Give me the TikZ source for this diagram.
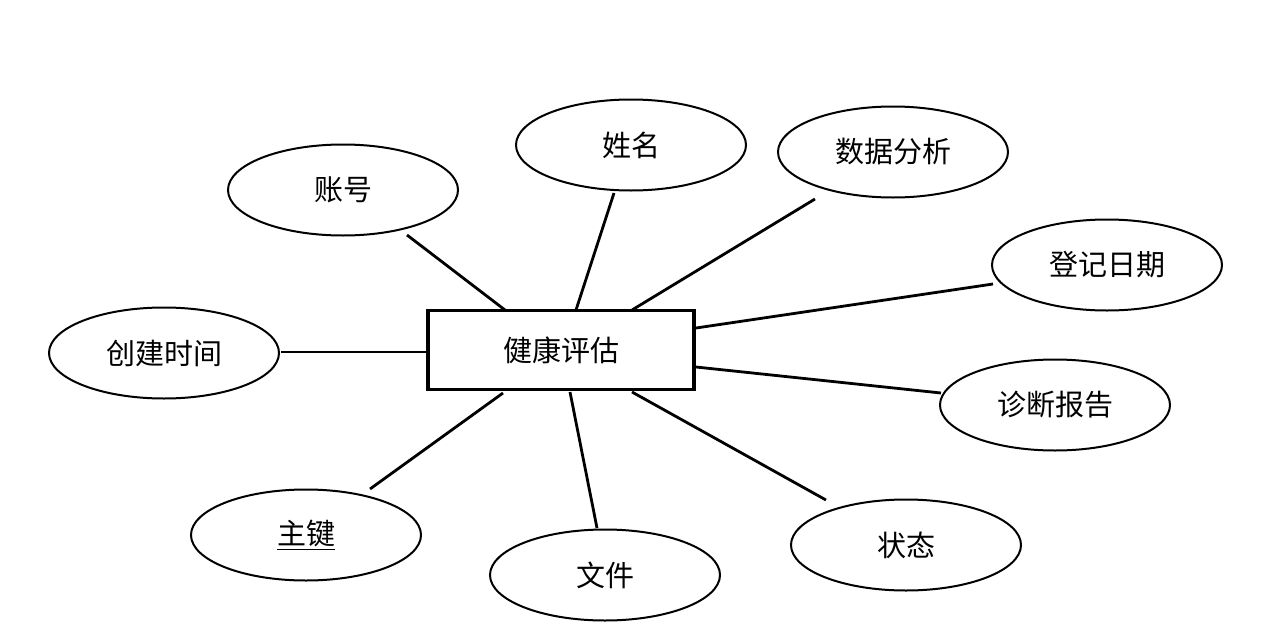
\documentclass[tikz,border=0pt]{standalone}
\usepackage{fontspec}
\setmainfont{Noto Sans CJK SC}
\usetikzlibrary{shapes.geometric}
\tikzset{
  attr/.style={ellipse, draw=black, line width=2pt, minimum width=230pt, minimum height=91pt, inner sep=0pt, font=\fontsize{29}{32}\selectfont},
  ent/.style={rectangle, draw=black, line width=3.5pt, minimum width=266pt, minimum height=79pt, inner sep=0pt, font=\fontsize{29}{32}\selectfont},
  conn/.style={line width=2.8pt, draw=black}
}
\newcommand{\ulthick}[1]{\setlength{\ULdepth}{0pt}#1}
\begin{document}
\begin{tikzpicture}[x=1pt,y=-1pt]
\useasboundingbox (0,0) rectangle (1280,643);
\node[ent] (c) at (561,350) {健康评估};
\node[attr] (zh) at (343,190) {账号};
\node[attr] (xm) at (631,145) {姓名};
\node[attr] (sj) at (893,152) {数据分析};
\node[attr] (dj) at (1107,265) {登记日期};
\node[attr] (cj) at (164,353) {创建时间};
\node[attr] (zd) at (1055,405) {诊断报告};
\node[attr] (zj) at (306,535) {\underline{主键}};
\node[attr] (wj) at (605,575) {文件};
\node[attr] (zt) at (906,545) {状态};
% connector ends
\coordinate (c1) at (505,310); \coordinate (e1) at (407,235);
\coordinate (c2) at (576,310); \coordinate (e2) at (614,193);
\coordinate (c3) at (632,310); \coordinate (e3) at (815,199);
\coordinate (c4) at (696,328); \coordinate (e4) at (993,284);
\coordinate (c5) at (427,352); \coordinate (e5) at (281,352);
\coordinate (c6) at (696,367); \coordinate (e6) at (941,393);
\coordinate (c7) at (503,393); \coordinate (e7) at (370,489);
\coordinate (c8) at (570,392); \coordinate (e8) at (597,528);
\coordinate (c9) at (632,392); \coordinate (e9) at (826,500);
\foreach \i in {1,...,9} { \draw[conn] (c\i) -- (e\i); }
\end{tikzpicture}
\end{document}
